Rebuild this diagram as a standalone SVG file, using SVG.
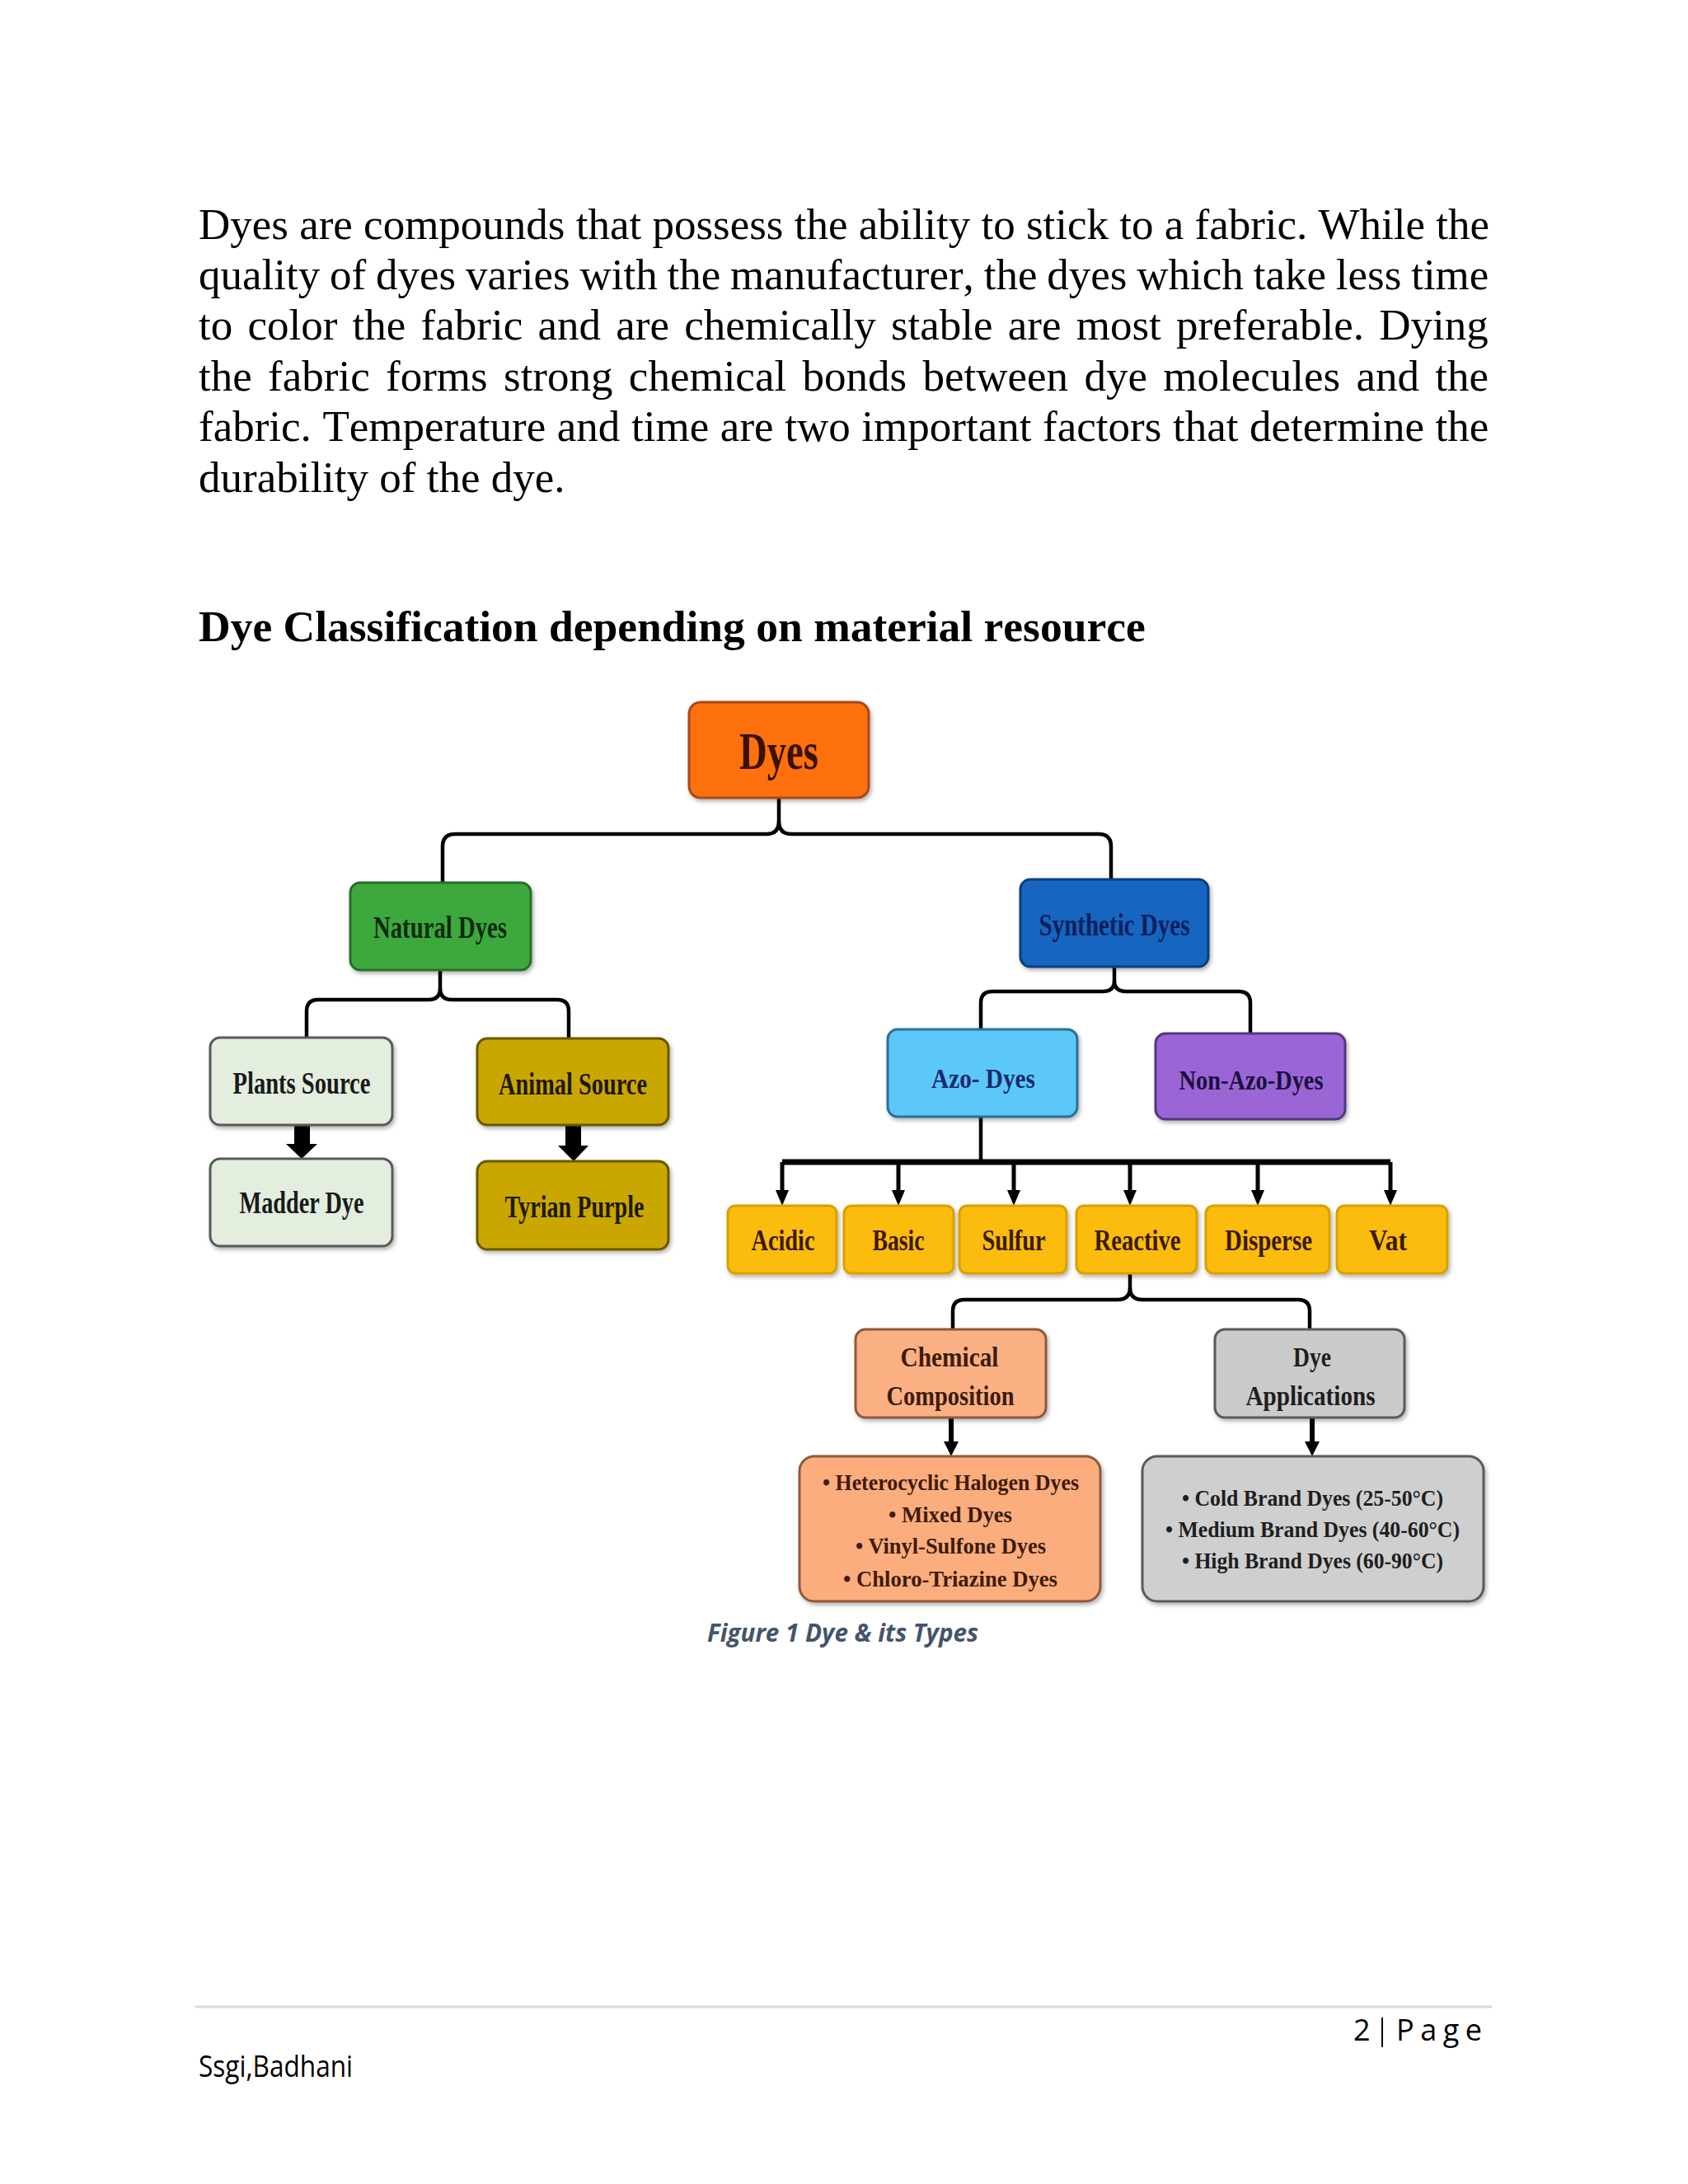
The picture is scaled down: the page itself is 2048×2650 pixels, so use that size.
<svg xmlns="http://www.w3.org/2000/svg" width="2048" height="2650" viewBox="0 0 2048 2650">
<defs>
<style>
.para{font-family:"Liberation Serif","Times New Roman",serif;font-size:53px;fill:#000;font-kerning:none}
.head{font-family:"Liberation Serif","Times New Roman",serif;font-size:53.5px;font-weight:bold;fill:#000;font-kerning:none}
.box{stroke-width:3;filter:url(#sh)}
.lbl{font-family:"Liberation Serif","Times New Roman",serif;font-weight:bold;text-anchor:middle}
.bul{font-family:"Liberation Serif","Times New Roman",serif;font-weight:bold;font-size:28px}
.conn{fill:none;stroke:#000;stroke-width:4.5;stroke-linejoin:round}
.cap{font-family:"Open Sans","Noto Sans",sans-serif;font-style:italic;font-weight:bold;font-size:31px;fill:#44546a}
.ftr{font-family:"Open Sans","Noto Sans",sans-serif;font-size:36px;fill:#000}
</style>
<filter id="sh" x="-10%" y="-10%" width="125%" height="130%">
<feDropShadow dx="2" dy="3" stdDeviation="2.5" flood-color="#000" flood-opacity="0.3"/>
</filter>
</defs>
<rect x="0" y="0" width="2048" height="2650" fill="#fff"/>

<g id="paragraph">
<text class="para" x="241" y="290" word-spacing="0">Dyes are compounds that possess the ability to stick to a fabric. While the</text>
<text class="para" x="241" y="351" word-spacing="-1.4">quality of dyes varies with the manufacturer, the dyes which take less time</text>
<text class="para" x="241" y="412" word-spacing="5">to color the fabric and are chemically stable are most preferable. Dying</text>
<text class="para" x="241" y="474" word-spacing="6.1">the fabric forms strong chemical bonds between dye molecules and the</text>
<text class="para" x="241" y="535" word-spacing="0.4">fabric. Temperature and time are two important factors that determine the</text>
<text class="para" x="241" y="597">durability of the dye.</text>
</g>

<g id="heading">
<text class="head" x="241" y="778">Dye Classification depending on material resource</text>
</g>

<g id="connectors">
<path class="conn" d="M945,968 L945,996 Q945,1012 930,1012 L552,1012 Q537,1012 537,1027 L537,1072"/>
<path class="conn" d="M945,996 Q945,1012 960,1012 L1333,1012 Q1348,1012 1348,1027 L1348,1068"/>
<path class="conn" d="M534,1177 L534,1199 Q534,1213 520,1213 L386,1213 Q372,1213 372,1227 L372,1260"/>
<path class="conn" d="M534,1199 Q534,1213 548,1213 L676,1213 Q690,1213 690,1227 L690,1261"/>
<polygon points="357,1365 376,1365 376,1388 385,1388 366,1406 347,1388 357,1388" fill="#000"/>
<polygon points="686,1365 705,1365 705,1390 714,1390 696,1409 677,1390 686,1390" fill="#000"/>
<path class="conn" d="M1352,1173 L1352,1190 Q1352,1203 1338,1203 L1204,1203 Q1190,1203 1190,1217 L1190,1250"/>
<path class="conn" d="M1352,1190 Q1352,1203 1366,1203 L1503,1203 Q1517,1203 1517,1217 L1517,1255"/>
<path class="conn" d="M1190,1355 L1190,1410"/>
<path d="M949,1410 L1687,1410" stroke="#000" stroke-width="7" fill="none"/>
<g stroke="#000" stroke-width="5">
<line x1="949" y1="1410" x2="949" y2="1448"/>
<line x1="1090" y1="1410" x2="1090" y2="1448"/>
<line x1="1230" y1="1410" x2="1230" y2="1448"/>
<line x1="1371" y1="1410" x2="1371" y2="1448"/>
<line x1="1526" y1="1410" x2="1526" y2="1448"/>
<line x1="1687" y1="1410" x2="1687" y2="1448"/>
</g>
<g fill="#000">
<polygon points="941,1444 957,1444 949,1463"/>
<polygon points="1082,1444 1098,1444 1090,1463"/>
<polygon points="1222,1444 1238,1444 1230,1463"/>
<polygon points="1363,1444 1379,1444 1371,1463"/>
<polygon points="1518,1444 1534,1444 1526,1463"/>
<polygon points="1679,1444 1695,1444 1687,1463"/>
</g>
<path class="conn" d="M1371,1545 L1371,1562 Q1371,1577 1356,1577 L1170,1577 Q1156,1577 1156,1591 L1156,1614"/>
<path class="conn" d="M1371,1562 Q1371,1577 1386,1577 L1575,1577 Q1589,1577 1589,1591 L1589,1614"/>
<path d="M1154,1720 L1154,1752" stroke="#000" stroke-width="6" fill="none"/>
<polygon points="1145,1749 1163,1749 1154,1767" fill="#000"/>
<path d="M1592,1720 L1592,1752" stroke="#000" stroke-width="6" fill="none"/>
<polygon points="1583,1749 1601,1749 1592,1767" fill="#000"/>
</g>

<g id="node-dyes">
<rect class="box" x="836" y="852" width="218" height="116" rx="14" fill="#fd700d" stroke="#a8481a"/>
<text class="lbl" x="945" y="933" font-size="64" fill="#3a1200" textLength="96" lengthAdjust="spacingAndGlyphs">Dyes</text>
</g>

<g id="node-natural">
<rect class="box" x="425" y="1071" width="219" height="106" rx="12" fill="#3ea83e" stroke="#2b6e2b"/>
<text class="lbl" x="534" y="1138" font-size="37" fill="#0e2a0e" textLength="162" lengthAdjust="spacingAndGlyphs">Natural Dyes</text>
</g>

<g id="node-synthetic">
<rect class="box" x="1238" y="1067" width="228" height="106" rx="12" fill="#1565c0" stroke="#0e3f7a"/>
<text class="lbl" x="1352" y="1135" font-size="37" fill="#0a1f5c" textLength="183" lengthAdjust="spacingAndGlyphs">Synthetic Dyes</text>
</g>

<g id="node-plants">
<rect class="box" x="255" y="1259" width="221" height="106" rx="12" fill="#e3eedf" stroke="#5a5a5a"/>
<text class="lbl" x="366" y="1327" font-size="37" fill="#1a1a1a" textLength="167" lengthAdjust="spacingAndGlyphs">Plants Source</text>
</g>

<g id="node-madder">
<rect class="box" x="255" y="1406" width="221" height="106" rx="12" fill="#e3eedf" stroke="#5a5a5a"/>
<text class="lbl" x="366" y="1472" font-size="37" fill="#1a1a1a" textLength="151" lengthAdjust="spacingAndGlyphs">Madder Dye</text>
</g>

<g id="node-animal">
<rect class="box" x="579" y="1260" width="232" height="105" rx="12" fill="#c9a700" stroke="#6a5800"/>
<text class="lbl" x="695" y="1328" font-size="37" fill="#1f1800" textLength="180" lengthAdjust="spacingAndGlyphs">Animal Source</text>
</g>

<g id="node-tyrian">
<rect class="box" x="579" y="1409" width="232" height="107" rx="12" fill="#c9a700" stroke="#6a5800"/>
<text class="lbl" x="697" y="1477" font-size="37" fill="#1f1800" textLength="169" lengthAdjust="spacingAndGlyphs">Tyrian Purple</text>
</g>

<g id="node-azo">
<rect class="box" x="1077" y="1249" width="230" height="106" rx="12" fill="#5cc8f7" stroke="#2c6f9a"/>
<text class="lbl" x="1193" y="1320" font-size="34" fill="#1a2a70" textLength="126" lengthAdjust="spacingAndGlyphs">Azo- Dyes</text>
</g>

<g id="node-nonazo">
<rect class="box" x="1402" y="1254" width="230" height="104" rx="12" fill="#9a66d6" stroke="#55387f"/>
<text class="lbl" x="1518" y="1322" font-size="34" fill="#1a1040" textLength="175" lengthAdjust="spacingAndGlyphs">Non-Azo-Dyes</text>
</g>

<g id="node-acidic">
<rect class="box" x="883" y="1463" width="132" height="82" rx="9" fill="#fcbc0c" stroke="#d9a000"/>
<text class="lbl" x="950" y="1517" font-size="36" fill="#3a1a00" textLength="77" lengthAdjust="spacingAndGlyphs">Acidic</text>
</g>
<g id="node-basic">
<rect class="box" x="1024" y="1463" width="133" height="82" rx="9" fill="#fcbc0c" stroke="#d9a000"/>
<text class="lbl" x="1090" y="1517" font-size="36" fill="#3a1a00" textLength="63" lengthAdjust="spacingAndGlyphs">Basic</text>
</g>
<g id="node-sulfur">
<rect class="box" x="1164" y="1463" width="130" height="82" rx="9" fill="#fcbc0c" stroke="#d9a000"/>
<text class="lbl" x="1230" y="1517" font-size="36" fill="#3a1a00" textLength="77" lengthAdjust="spacingAndGlyphs">Sulfur</text>
</g>
<g id="node-reactive">
<rect class="box" x="1306" y="1463" width="146" height="82" rx="9" fill="#fcbc0c" stroke="#d9a000"/>
<text class="lbl" x="1380" y="1517" font-size="36" fill="#3a1a00" textLength="105" lengthAdjust="spacingAndGlyphs">Reactive</text>
</g>
<g id="node-disperse">
<rect class="box" x="1463" y="1463" width="150" height="82" rx="9" fill="#fcbc0c" stroke="#d9a000"/>
<text class="lbl" x="1539" y="1517" font-size="36" fill="#3a1a00" textLength="106" lengthAdjust="spacingAndGlyphs">Disperse</text>
</g>
<g id="node-vat">
<rect class="box" x="1622" y="1463" width="134" height="82" rx="9" fill="#fcbc0c" stroke="#d9a000"/>
<text class="lbl" x="1684" y="1517" font-size="36" fill="#3a1a00" textLength="46" lengthAdjust="spacingAndGlyphs">Vat</text>
</g>

<g id="node-chemical">
<rect class="box" x="1038" y="1613" width="231" height="107" rx="12" fill="#fbb084" stroke="#8e5a3a"/>
<text class="lbl" x="1152" y="1658" font-size="33" fill="#3d1c0c" textLength="119" lengthAdjust="spacingAndGlyphs">Chemical</text>
<text class="lbl" x="1153" y="1705" font-size="33" fill="#3d1c0c" textLength="155" lengthAdjust="spacingAndGlyphs">Composition</text>
</g>

<g id="node-applications">
<rect class="box" x="1474" y="1613" width="230" height="107" rx="12" fill="#cbcbcb" stroke="#5a5a5a"/>
<text class="lbl" x="1592" y="1658" font-size="33" fill="#1e1e1e" textLength="46" lengthAdjust="spacingAndGlyphs">Dye</text>
<text class="lbl" x="1590" y="1705" font-size="33" fill="#1e1e1e" textLength="157" lengthAdjust="spacingAndGlyphs">Applications</text>
</g>

<g id="node-chem-list">
<rect class="box" x="970" y="1767" width="365" height="176" rx="18" fill="#fbad7d" stroke="#8e5a3a"/>
<text class="bul" x="998" y="1808" fill="#3d1c0c" textLength="311" lengthAdjust="spacingAndGlyphs">•  Heterocyclic Halogen Dyes</text>
<text class="bul" x="1078" y="1847" fill="#3d1c0c" textLength="150" lengthAdjust="spacingAndGlyphs">•  Mixed Dyes</text>
<text class="bul" x="1038" y="1885" fill="#3d1c0c" textLength="231" lengthAdjust="spacingAndGlyphs">•  Vinyl-Sulfone Dyes</text>
<text class="bul" x="1023" y="1925" fill="#3d1c0c" textLength="260" lengthAdjust="spacingAndGlyphs">•  Chloro-Triazine Dyes</text>
</g>

<g id="node-app-list">
<rect class="box" x="1386" y="1767" width="414" height="176" rx="18" fill="#cfcfcf" stroke="#5a5a5a"/>
<text class="bul" x="1434" y="1827" fill="#1e1e1e" textLength="317" lengthAdjust="spacingAndGlyphs">•  Cold Brand Dyes (25-50°C)</text>
<text class="bul" x="1414" y="1865" fill="#1e1e1e" textLength="357" lengthAdjust="spacingAndGlyphs">•  Medium Brand Dyes (40-60°C)</text>
<text class="bul" x="1434" y="1903" fill="#1e1e1e" textLength="317" lengthAdjust="spacingAndGlyphs">•  High Brand Dyes (60-90°C)</text>
</g>

<g id="caption">
<text class="cap" x="858" y="1992" textLength="329" lengthAdjust="spacingAndGlyphs">Figure 1 Dye &amp; its Types</text>
</g>

<g id="footer">
<line x1="237" y1="2435" x2="1810" y2="2435" stroke="#d9d9d9" stroke-width="3"/>
<text class="ftr" x="1642" y="2476">2</text>
<line x1="1677" y1="2448" x2="1677" y2="2484" stroke="#000" stroke-width="2"/>
<text class="ftr" x="1694" y="2476" fill="#7f7f7f" textLength="104" lengthAdjust="spacing">Page</text>
<text class="ftr" x="241" y="2520" textLength="187" lengthAdjust="spacingAndGlyphs">Ssgi,Badhani</text>
</g>
</svg>
